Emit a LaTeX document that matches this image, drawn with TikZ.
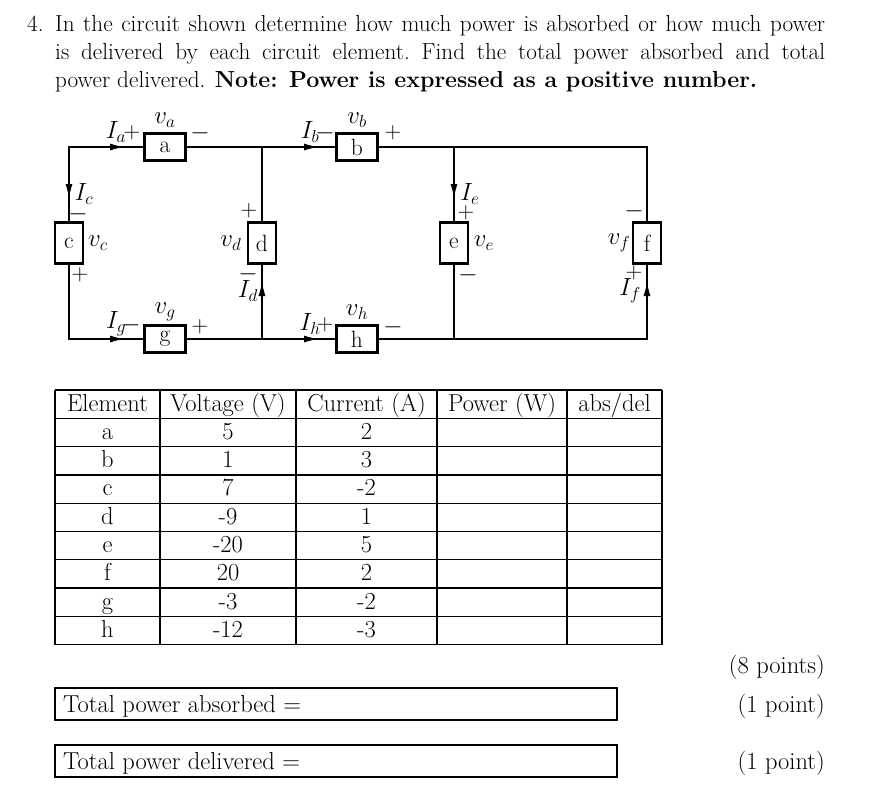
\documentclass[tikz,border=0pt]{standalone}
\usetikzlibrary{arrows.meta}
\begin{document}
\begin{tikzpicture}[x=1pt,y=-1pt,
  every node/.style={font=\fontsize{24.5}{28}\selectfont,inner sep=0pt},
  wire/.style={line width=2.8pt},
  el/.style={draw,line width=2.8pt,fill=white,minimum width=41pt,minimum height=27pt,font=\fontsize{23.5}{24}\selectfont},
  elv/.style={draw,line width=2.8pt,fill=white,minimum width=28pt,minimum height=41pt,font=\fontsize{23.5}{24}\selectfont},
  cur/.style={line width=1pt,-{Latex[length=14pt,width=7pt]}},
  lab/.style={font=\fontsize{23}{24}\selectfont},
  tab/.style={line width=1.3pt},
  para/.style={font=\fontsize{23.2}{27}\selectfont},
  cell/.style={anchor=base}]
\useasboundingbox (0,0) rectangle (884,803);
% text
\node[para,anchor=base west] (num) at (27,31) {4.};
\node[para,anchor=base west] (l1) at (55,31) {\hbox to 770pt{In the circuit shown determine how much power is absorbed or how much power}};
\node[para,anchor=base west] (l2) at (55,59) {\hbox to 770pt{is delivered by each circuit element.\ Find the total power absorbed and total}};
\node[para,anchor=base west] (l3) at (55,87) {power delivered. \textbf{Note: Power is expressed as a positive number.}};
% wires
\coordinate (TL) at (69,147); \coordinate (TR) at (647,147);
\coordinate (BL) at (69,339); \coordinate (BR) at (647,339);
\coordinate (TD) at (262,147); \coordinate (BD) at (262,339);
\coordinate (TE) at (454,147); \coordinate (BE) at (454,339);
\draw[wire] (TL) -- (TR) -- (BR) -- (BL) -- cycle;
\draw[wire] (TD) -- (BD);
\draw[wire] (TE) -- (BE);
% elements
\node[el] (a) at (165,147) {a};
\node[el] (b) at (357,147) {b};
\node[el] (g) at (165,339) {g};
\node[el] (h) at (357,339) {h};
\node[elv] (c) at (69,243) {c};
\node[elv] (d) at (262,243) {d};
\node[elv] (e) at (454,243) {e};
\node[elv] (f) at (647,243) {f};
% current arrows
\coordinate (aa1) at (104,147); \coordinate (aa2) at (124,147);
\coordinate (ab1) at (298,147); \coordinate (ab2) at (318,147);
\coordinate (ag1) at (104,339); \coordinate (ag2) at (124,339);
\coordinate (ah1) at (298,339); \coordinate (ah2) at (318,339);
\coordinate (ac1) at (69,178); \coordinate (ac2) at (69,198);
\coordinate (ae1) at (454,178); \coordinate (ae2) at (454,198);
\coordinate (ad1) at (262,302); \coordinate (ad2) at (262,282);
\coordinate (af1) at (647,302); \coordinate (af2) at (647,282);
\foreach \p in {a,b,g,h,c,e,d,f}{\draw[cur] (a\p1) -- (a\p2);}
% labels
\node[lab] (la) at (116,132) {$I_a$}; \node[lab] (pa) at (132,133) {+};
\node[lab] (va) at (165,120) {$v_a$}; \node[lab] (ma) at (200,133) {$-$};
\node[lab] (lb) at (310,132) {$I_b$}; \node[lab] (mb) at (325,133) {$-$};
\node[lab] (vb) at (357,120) {$v_b$}; \node[lab] (pb) at (393,133) {+};
\node[lab] (lg) at (116,324) {$I_g$}; \node[lab] (mg) at (131,325) {$-$};
\node[lab] (vg) at (165,312) {$v_g$}; \node[lab] (pg) at (200,327) {+};
\node[lab] (lh) at (310,324) {$I_h$}; \node[lab] (ph) at (325,325) {+};
\node[lab] (vh) at (357,312) {$v_h$}; \node[lab] (mh) at (393,327) {$-$};
\node[lab] (lc) at (84,194) {$I_c$}; \node[lab] (mc) at (78,214) {$-$};
\node[lab] (vc) at (98,243) {$v_c$}; \node[lab] (pc) at (80,275) {+};
\node[lab] (pd) at (249,211) {+}; \node[lab] (vd) at (231,243) {$v_d$};
\node[lab] (md) at (248,274) {$-$}; \node[lab] (ld) at (248,291) {$I_d$};
\node[lab] (le) at (470,194) {$I_e$}; \node[lab] (pe) at (466,213) {+};
\node[lab] (ve) at (484,243) {$v_e$}; \node[lab] (me) at (468,275) {$-$};
\node[lab] (mf) at (634,211) {$-$}; \node[lab] (vf) at (619,243) {$v_f$};
\node[lab] (pf) at (634,273) {+}; \node[lab] (lf) at (630,291) {$I_f$};
% table
\foreach \yy in {390,418.3,446.6,474.9,503.2,531.5,559.8,588.1,616.4,644.7}
  \draw[tab] (55,\yy) -- (662,\yy);
\foreach \xx in {55,160,296,437,567,662}
  \draw[tab] (\xx,390) -- (\xx,644.7);
\node[cell] (h1) at (107.5,411) {Element};
\node[cell] (h2) at (228,411) {Voltage (V)};
\node[cell] (h3) at (366.5,411) {Current (A)};
\node[cell] (h4) at (502,411) {Power (W)};
\node[cell] (h5) at (614.5,411) {abs/del};
\foreach \e/\v/\c [count=\i] in {a/5/2,b/1/3,c/7/-2,d/-9/1,e/-20/5,f/20/2,g/-3/-2,h/-12/-3}{
  \node[cell] at (107.5,411+28.3*\i) {\e};
  \node[cell] at (228,411+28.3*\i) {\v};
  \node[cell] at (366.5,411+28.3*\i) {\c};
}
% totals
\node[anchor=base east] (p8) at (825,673) {(8 points)};
\draw[tab] (55,688) rectangle (617,720);
\node[anchor=base west] (ta) at (63,712) {Total power absorbed =};
\node[anchor=base east] (p1) at (825,712) {(1 point)};
\draw[tab] (55,745) rectangle (617,777);
\node[anchor=base west] (td) at (63,769) {Total power delivered =};
\node[anchor=base east] (p2) at (825,769) {(1 point)};
\end{tikzpicture}
\end{document}
